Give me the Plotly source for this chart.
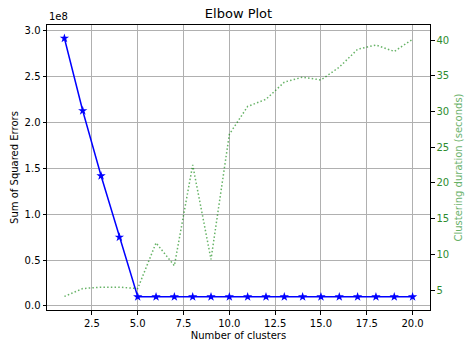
import plotly.graph_objects as go

clusters = list(range(1, 21))
sse = [2.92e8, 2.13e8, 1.42e8, 0.75e8] + [0.10e8] * 16
duration = [4.1, 5.2, 5.4, 5.4, 5.2, 11.6, 8.4, 22.5, 9.3, 26.8,
            30.7, 31.7, 34.1, 34.8, 34.4, 36.2, 38.7, 39.3, 38.4, 40.1]

x_ticks = [2.5, 5.0, 7.5, 10.0, 12.5, 15.0, 17.5, 20.0]
y_ticks = [0.0, 0.5e8, 1.0e8, 1.5e8, 2.0e8, 2.5e8, 3.0e8]
y_ticktext = ["0.0", "0.5", "1.0", "1.5", "2.0", "2.5", "3.0"]
y2_ticks = [5, 10, 15, 20, 25, 30, 35, 40]

font = "DejaVu Sans"

fig = go.Figure()
fig.add_trace(go.Scatter(
    x=clusters, y=sse, mode="lines+markers",
    line=dict(color="#0000ff", width=1.5),
    marker=dict(symbol="star", size=7, color="#0000ff"),
    yaxis="y", showlegend=False))
fig.add_trace(go.Scatter(
    x=clusters, y=duration, mode="lines",
    line=dict(color="rgba(0,128,0,0.6)", width=1.5, dash="1.5px,2.2px"),
    yaxis="y2", showlegend=False))

fig.update_layout(
    width=474, height=351,
    margin=dict(l=47, r=44, t=25, b=41),
    plot_bgcolor="white", paper_bgcolor="white",
    font=dict(family=font, size=10, color="black"),
    title=dict(text="Elbow Plot", x=(47 + 430) / 2 / 474, xanchor="center",
               y=1 - 13 / 351, yanchor="middle",
               font=dict(size=13, family=font, color="black")),
    xaxis=dict(
        range=[0.05, 20.95], tickvals=x_ticks,
        ticktext=[f"{v:.1f}" for v in x_ticks],
        showgrid=True, gridcolor="#b0b0b0", gridwidth=0.8,
        showline=True, linecolor="black", linewidth=1, mirror=True,
        ticks="outside", ticklen=3.5, tickcolor="black",
        zeroline=False,
        title=dict(text="Number of clusters", standoff=4,
                   font=dict(size=10, family=font)),
        tickfont=dict(size=10, family=font)),
    yaxis=dict(
        range=[-0.044e8, 3.065e8], tickvals=y_ticks, ticktext=y_ticktext,
        showgrid=True, gridcolor="#b0b0b0", gridwidth=0.8,
        showline=True, linecolor="black", linewidth=1, mirror=True,
        ticks="outside", ticklen=3.5, tickcolor="black",
        zeroline=False,
        title=dict(text="Sum of Squared Errors", standoff=4,
                   font=dict(size=10, family=font)),
        tickfont=dict(size=10, family=font)),
    yaxis2=dict(
        overlaying="y", side="right",
        range=[2.2, 42.1], tickvals=y2_ticks,
        showgrid=False, zeroline=False,
        showline=True, linecolor="black", linewidth=1,
        ticks="outside", ticklen=3.5, tickcolor="black",
        tickfont=dict(size=10, family=font, color="#2e8b2e"),
        title=dict(text="Clustering duration (seconds)", standoff=6,
                   font=dict(size=10, family=font, color="rgba(0,128,0,0.6)"))),
    annotations=[dict(text="1e8", xref="paper", yref="paper",
                      x=0, y=1, xanchor="left", yanchor="bottom",
                      yshift=1, showarrow=False,
                      font=dict(size=10, family=font, color="black"))],
)

fig.write_html("out.html")
